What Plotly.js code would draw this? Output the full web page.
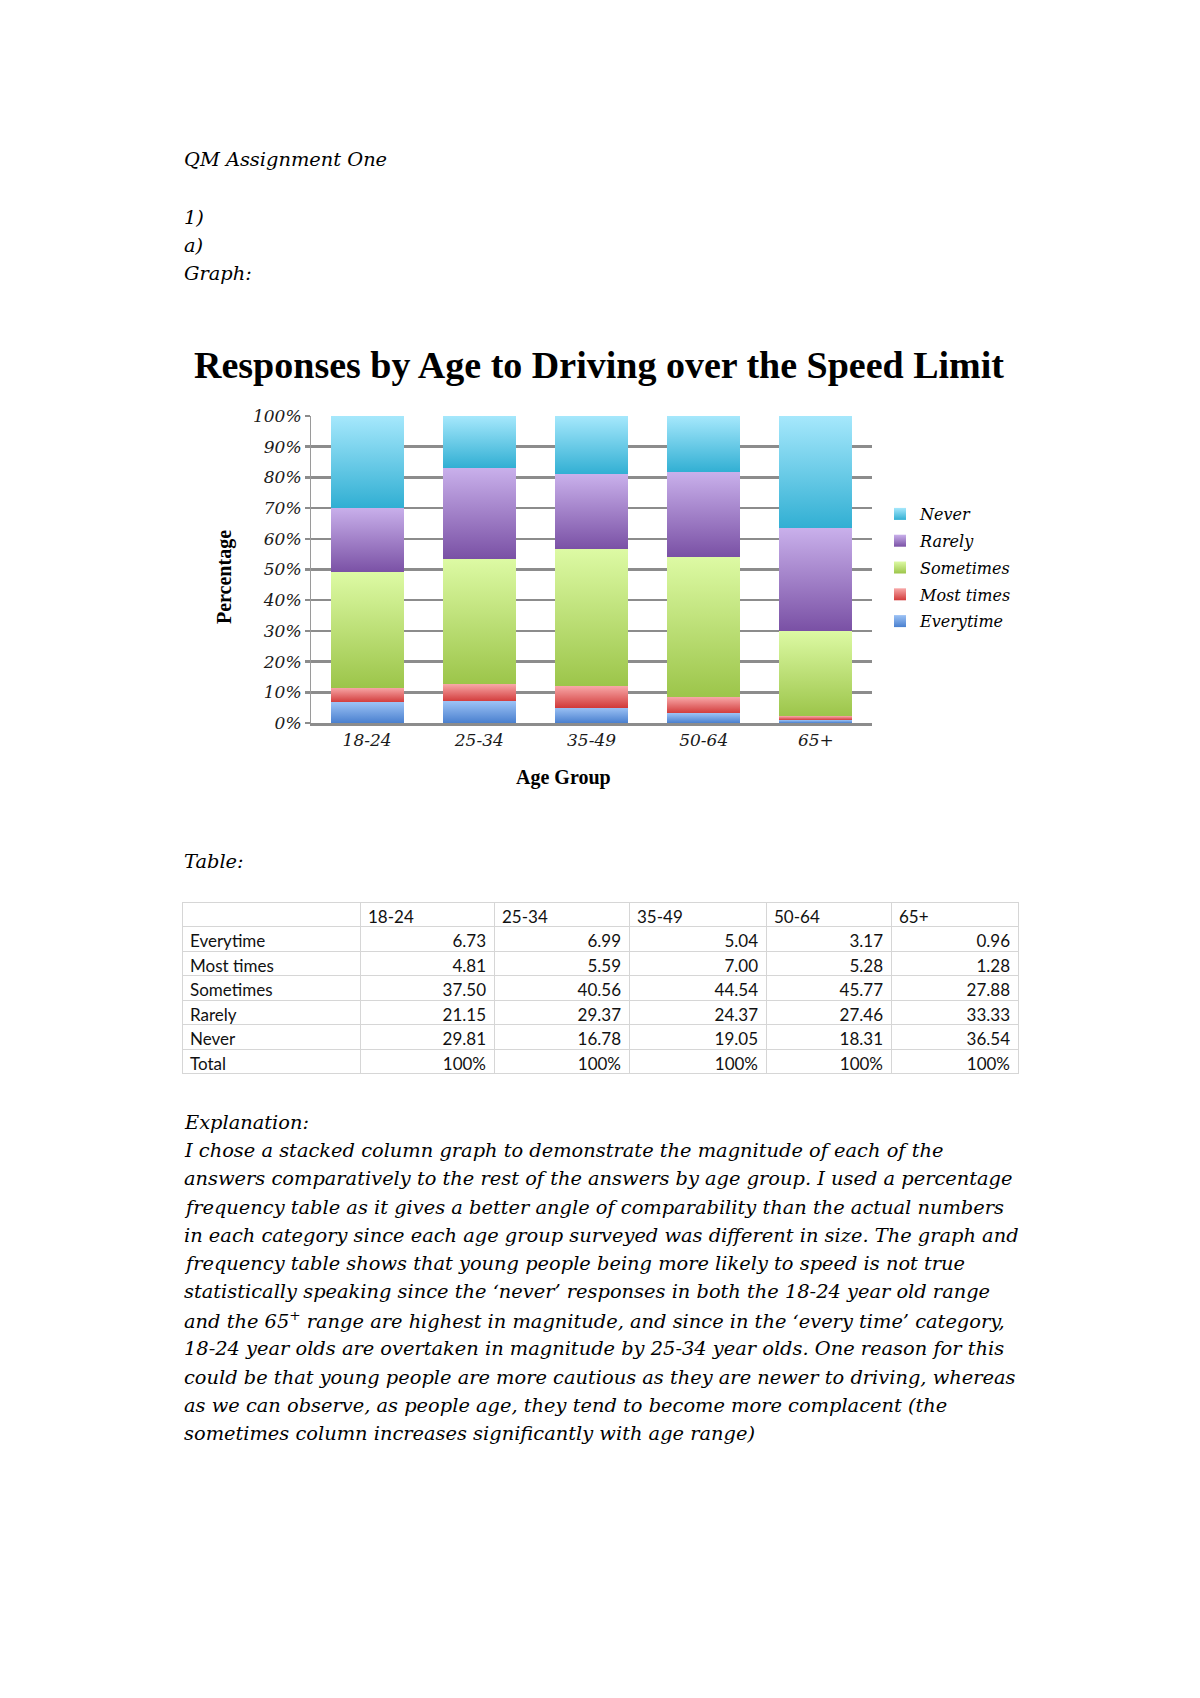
<!DOCTYPE html>
<html>
<head>
<meta charset="utf-8">
<script src="https://cdn.plot.ly/plotly-3.0.1.min.js"></script>
<style>
  html, body { margin: 0; padding: 0; background: #ffffff; }
  #page { width: 1200px; height: 1698px; }
</style>
</head>
<body>
<div id="page"></div>
<script>
// ---------------- data ----------------
const ageGroups = ['18-24', '25-34', '35-49', '50-64', '65+'];
const everytime = [6.73, 6.99, 5.04, 3.17, 0.96];
const mostTimes = [4.81, 5.59, 7.00, 5.28, 1.28];
const sometimes = [37.50, 40.56, 44.54, 45.77, 27.88];
const rarely    = [21.15, 29.37, 24.37, 27.46, 33.33];
const never     = [29.81, 16.78, 19.05, 18.31, 36.54];
const totals    = ['100%', '100%', '100%', '100%', '100%'];
const responseNames = ['Everytime', 'Most times', 'Sometimes', 'Rarely', 'Never'];

const headerLines = [
  { text: 'QM Assignment One', y: 159 },
  { text: '1)', y: 217 },
  { text: 'a)', y: 245 },
  { text: 'Graph:', y: 273 },
  { text: 'Table:', y: 861 },
  { text: 'Explanation:', y: 1122 }
];
const paragraphLines = [
  'I chose a stacked column graph to demonstrate the magnitude of each of the',
  'answers comparatively to the rest of the answers by age group. I used a percentage',
  'frequency table as it gives a better angle of comparability than the actual numbers',
  'in each category since each age group surveyed was different in size. The graph and',
  'frequency table shows that young people being more likely to speed is not true',
  'statistically speaking since the \u2018never\u2019 responses in both the 18-24 year old range',
  'and the 65<sup>+</sup> range are highest in magnitude, and since in the \u2018every time\u2019 category,',
  '18-24 year olds are overtaken in magnitude by 25-34 year olds. One reason for this',
  'could be that young people are more cautious as they are newer to driving, whereas',
  'as we can observe, as people age, they tend to become more complacent (the',
  'sometimes column increases significantly with age range)'
];
const paragraphY = [1150, 1178, 1207, 1235, 1263, 1291, 1320, 1348, 1377, 1405, 1433];

// ---------------- styles ----------------
const seriesValues = [everytime, mostTimes, sometimes, rarely, never];
const solidColors = ['#6d9ee6', '#ec6a6a', '#b9e07a', '#9570c8', '#5cc9e8'];
const gradientStops = [
  ['#9cc2f5', '#4a80cf'],
  ['#f8a8a8', '#d23b3b'],
  ['#ddfaa4', '#9cc54a'],
  ['#c9b0eb', '#7a51a5'],
  ['#a6e8fc', '#31afd3']
];
const H = 1698, W = 1200;
const py = v => 1 - v / H;
const px = v => v / W;

const serifItalic = { family: 'DejaVu Serif', style: 'italic', size: 19.4, color: '#000' };
const axisItalic = { family: 'DejaVu Serif', style: 'italic', size: 17, color: '#1a1a1a' };
const boldSerif = { family: 'Liberation Serif', weight: 'bold', size: 20, color: '#000' };

const traces = responseNames.map((name, i) => ({
  type: 'bar',
  name: name,
  legendgroup: 'g' + i,
  legendrank: 1000 - i,
  x: ageGroups,
  y: seriesValues[i],
  marker: { color: solidColors[i], line: { width: 0 } },
  xaxis: 'x', yaxis: 'y',
  hoverinfo: 'skip'
}));

const column = k => [everytime[k], mostTimes[k], sometimes[k], rarely[k], never[k]].map(v => v.toFixed(2)).concat([totals[k]]);
const tableTrace = {
  type: 'table',
  domain: { x: [px(182), px(1018)], y: [py(1080), py(902)] },
  columnwidth: [178, 134, 135, 137, 125, 127],
  header: {
    values: [' '].concat(ageGroups),
    align: 'left',
    height: 24.5,
    line: { color: '#d6d6d6', width: 1 },
    fill: { color: '#ffffff' },
    font: { family: 'Lato', size: 17, color: '#111' }
  },
  cells: {
    values: [responseNames.concat(['Total']), column(0), column(1), column(2), column(3), column(4)],
    align: ['left', 'right', 'right', 'right', 'right', 'right'],
    height: 24.5,
    line: { color: '#d6d6d6', width: 1 },
    fill: { color: '#ffffff' },
    font: { family: 'Lato', size: 17, color: '#111' }
  }
};

const annotations = [];
headerLines.forEach(h => annotations.push({
  xref: 'paper', yref: 'paper', x: px(182), y: py(h.y), xanchor: 'left', yanchor: 'middle',
  text: h.text, showarrow: false, font: serifItalic
}));
paragraphLines.forEach((t, i) => annotations.push({
  xref: 'paper', yref: 'paper', x: px(182), y: py(paragraphY[i]), xanchor: 'left', yanchor: 'middle',
  text: t, showarrow: false, font: serifItalic
}));
annotations.push({
  xref: 'paper', yref: 'paper', x: px(563), y: py(778), xanchor: 'center', yanchor: 'middle',
  text: 'Age Group', showarrow: false, font: boldSerif
});
annotations.push({
  xref: 'paper', yref: 'paper', x: px(224), y: py(577), xanchor: 'center', yanchor: 'middle',
  text: 'Percentage', textangle: -90, showarrow: false, font: boldSerif
});

const layout = {
  width: W, height: H,
  margin: { l: 0, r: 0, t: 0, b: 0 },
  paper_bgcolor: '#ffffff', plot_bgcolor: '#ffffff',
  barmode: 'stack',
  barnorm: 'percent',
  bargap: 0.35,
  showlegend: true,
  title: {
    text: 'Responses by Age to Driving over the Speed Limit',
    x: px(599), xanchor: 'center', y: py(365), yanchor: 'middle',
    font: { family: 'Liberation Serif', weight: 'bold', size: 38, color: '#000' }
  },
  xaxis: {
    domain: [px(311), px(872)], anchor: 'y',
    showgrid: false, zeroline: false,
    showline: true, linecolor: '#8c8c8c', linewidth: 2.5,
    ticks: '', tickfont: axisItalic
  },
  yaxis: {
    domain: [py(723), py(416)], anchor: 'x',
    range: [0, 100], dtick: 10, ticksuffix: '%',
    showgrid: true, gridcolor: '#8c8c8c', gridwidth: 2.5,
    zeroline: false,
    showline: true, linecolor: '#9a9a9a', linewidth: 1,
    ticks: 'outside', ticklen: 5, tickwidth: 2.5, tickcolor: '#8c8c8c',
    tickfont: axisItalic
  },
  legend: {
    x: px(880), y: py(497), xanchor: 'left', yanchor: 'top',
    traceorder: 'grouped',
    tracegroupgap: 3,
    itemwidth: 30,
    bgcolor: 'rgba(0,0,0,0)',
    font: { family: 'DejaVu Serif', style: 'italic', size: 16, color: '#000' }
  },
  annotations: annotations
};

Plotly.newPlot('page', traces.concat([tableTrace]), layout, { staticPlot: true, displayModeBar: false }).then(gd => {
  const ns = 'http://www.w3.org/2000/svg';
  const svg = gd.querySelector('svg.main-svg');
  let defs = svg.querySelector('defs');
  if (!defs) { defs = document.createElementNS(ns, 'defs'); svg.insertBefore(defs, svg.firstChild); }
  gradientStops.forEach((g, i) => {
    const lg = document.createElementNS(ns, 'linearGradient');
    lg.setAttribute('id', 'barGrad' + i);
    lg.setAttribute('x1', '0'); lg.setAttribute('y1', '0');
    lg.setAttribute('x2', '0'); lg.setAttribute('y2', '1');
    [[0, g[0]], [1, g[1]]].forEach(s => {
      const st = document.createElementNS(ns, 'stop');
      st.setAttribute('offset', s[0]);
      st.setAttribute('stop-color', s[1]);
      lg.appendChild(st);
    });
    defs.appendChild(lg);
  });
  gd.querySelectorAll('.barlayer .trace').forEach((tr, i) => {
    tr.querySelectorAll('path').forEach(p => { p.style.fill = 'url(#barGrad' + i + ')'; });
  });
  gd.querySelectorAll('.legend .traces').forEach(el => {
    const d = el.__data__;
    let idx = null;
    if (d && d[0] && d[0].trace) idx = d[0].trace.index;
    if (idx !== null && idx < gradientStops.length) {
      el.querySelectorAll('.legendpoints path').forEach(p => { p.style.fill = 'url(#barGrad' + idx + ')'; });
    }
  });
});
</script>
</body>
</html>
